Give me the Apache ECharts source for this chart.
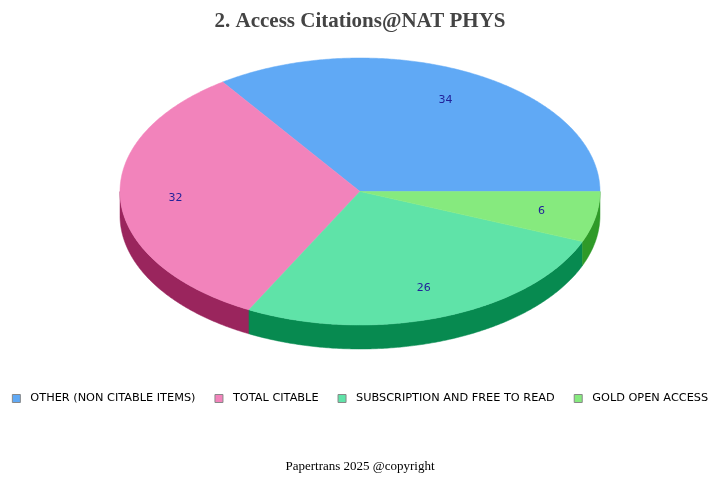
<!DOCTYPE html>
<html>
<head>
<meta charset="utf-8">
<script src="https://cdn.jsdelivr.net/npm/echarts@6/dist/echarts.min.js"></script>
<style>html,body{margin:0;padding:0;background:#fff;}#c{width:720px;height:480px;}</style>
</head>
<body>
<div id="c"></div>
<script>
var categories = ['OTHER (NON CITABLE ITEMS)', 'TOTAL CITABLE', 'SUBSCRIPTION AND FREE TO READ', 'GOLD OPEN ACCESS'];
var values = [34, 32, 26, 6];
var topColors = ['#60a9f5', '#f283bb', '#5fe3a8', '#86ea7e'];
var sideColors = ['#2a6fb8', '#9a255d', '#078a50', '#2f9a28'];

var CX = 360, CY = 191.5, RX = 240, RY = 133.5, DEPTH = 24;
var total = values.reduce(function (a, b) { return a + b; }, 0);
var starts = [], acc = 0;
values.forEach(function (v) { starts.push(acc / total * 360); acc += v; });

function pt(deg, dy) {
  var r = deg * Math.PI / 180;
  return [CX + RX * Math.cos(r), CY - RY * Math.sin(r) + (dy || 0)];
}
function angles(i) {
  var v = values[i];
  return [starts[i], starts[i] + v / total * 360];
}

var series = [];
categories.forEach(function (name, i) {
  series.push({
    type: 'custom', name: name, coordinateSystem: 'none', z: 3,
    itemStyle: { color: topColors[i] },
    data: [values[i]],
    silent: true,
    renderItem: function (params, api) {
      var a = angles(i), pts = [[CX, CY]];
      for (var d = a[0]; d < a[1]; d += 0.5) pts.push(pt(d));
      pts.push(pt(a[1]));
      var mid = (a[0] + a[1]) / 2, r = mid * Math.PI / 180;
      var lp = [CX + RX * 0.77 * Math.cos(r), CY - RY * 0.77 * Math.sin(r)];
      return {
        type: 'group', children: [
          { type: 'polygon', shape: { points: pts }, style: { fill: topColors[i], stroke: topColors[i], lineWidth: 0.5 } },
          { type: 'text', x: lp[0], y: lp[1], z2: 20, style: { text: String(api.value(0)), fill: '#22229a', font: '11px "DejaVu Sans"', align: 'center', verticalAlign: 'middle' } }
        ]
      };
    }
  });
});
categories.forEach(function (name, i) {
  series.push({
    type: 'custom', name: 'side' + i, coordinateSystem: 'none', z: 2,
    data: [values[i]], silent: true,
    renderItem: function () {
      var a = angles(i);
      var s = Math.max(a[0], 180), e = Math.min(a[1], 360);
      if (e <= s) return { type: 'group', children: [] };
      var top = [], bot = [];
      for (var d = s; d < e; d += 0.5) { top.push(pt(d)); bot.push(pt(d, DEPTH)); }
      top.push(pt(e)); bot.push(pt(e, DEPTH));
      return { type: 'polygon', shape: { points: top.concat(bot.reverse()) }, style: { fill: sideColors[i], stroke: sideColors[i], lineWidth: 0.5 } };
    }
  });
});

var chart = echarts.init(document.getElementById('c'), null, { renderer: 'canvas' });
chart.setOption({
  animation: false,
  backgroundColor: '#fff',
  title: [{
    text: '2. Access Citations@NAT PHYS', left: 'center', top: 6,
    textStyle: { fontFamily: '"Liberation Serif", serif', fontWeight: 'bold', fontSize: 21, color: '#444' }
  }, {
    text: 'Papertrans 2025 @copyright', left: 'center', top: 455,
    textStyle: { fontFamily: '"Liberation Serif", serif', fontWeight: 'normal', fontSize: 13, color: '#000' }
  }],
  legend: {
    data: categories, left: 'center', top: 388, icon: 'rect', itemWidth: 8, itemHeight: 8, itemGap: 19,
    itemStyle: { borderColor: '#888', borderWidth: 1 },
    textStyle: { fontFamily: '"DejaVu Sans", sans-serif', fontSize: 11.3, color: '#000', padding: [0, 0, 0, 5] }
  },
  series: series
});
</script>
</body>
</html>
